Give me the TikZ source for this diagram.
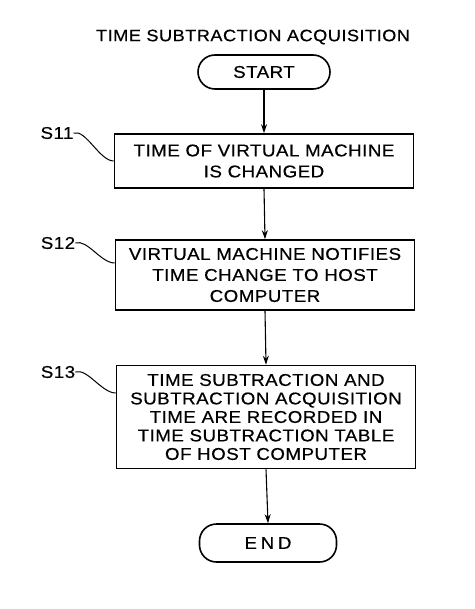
\documentclass[tikz,border=0pt]{standalone}
\usepackage{fontspec}
\setmainfont{Liberation Sans}[FakeStretch=1.1, LetterSpace=3, FakeBold=0.5]
\usetikzlibrary{arrows.meta}
\begin{document}
\begin{tikzpicture}[x=1pt,y=-1pt,
  every node/.style={font=\fontsize{17}{21}\selectfont},
  stepbox/.style={draw, line width=1.6pt, minimum width=299pt, align=center, inner sep=0pt},
  term/.style={draw, line width=1.6pt, rounded corners=17pt, inner sep=0pt, align=center},
  conn/.style={line width=1.1pt, -{Stealth[length=9pt,width=6pt]}},
  lead/.style={line width=1pt},
  lbl/.style={inner sep=0pt}]
\useasboundingbox (0,0) rectangle (474,609);
\node[inner sep=0pt, font=\fontsize{16.5}{20}\selectfont] (title) at (253,37) {TIME SUBTRACTION ACQUISITION};
\node[term, minimum width=132pt, minimum height=34pt] (start) at (264,72) {START};
\node[stepbox, minimum height=54pt] (s11) at (264,161) {TIME OF VIRTUAL MACHINE\\IS CHANGED};
\node[stepbox, minimum height=70pt] (s12) at (265,275) {VIRTUAL MACHINE NOTIFIES\\TIME CHANGE TO HOST\\COMPUTER};
\node[stepbox, minimum height=103pt, font=\fontsize{17}{18.5}\selectfont] (s13) at (266,417) {TIME SUBTRACTION AND\\SUBTRACTION ACQUISITION\\TIME ARE RECORDED IN\\TIME SUBTRACTION TABLE\\OF HOST COMPUTER};
\node[term, minimum width=137pt, minimum height=38pt] (end) at (268,543) {\addfontfeature{LetterSpace=22}END};
\draw[conn] (start.south) -- (s11.north);
\draw[conn] (s11.south) -- (s12.north);
\draw[conn] (s12.south) -- (s13.north);
\draw[conn] (s13.south) -- (end.north);
\node[lbl] (l11) at (57,133) {S11};
\node[lbl] (l12) at (58,243) {S12};
\node[lbl] (l13) at (58,372) {S13};
\draw[lead] (l11.east) .. controls +(12,-4) and +(-14,0) .. (s11.west);
\draw[lead] (l12.east) .. controls +(12,-4) and +(-14,0) .. ([yshift=12pt]s12.west);
\draw[lead] (l13.east) .. controls +(12,-4) and +(-14,0) .. ([yshift=24pt]s13.west);
\end{tikzpicture}
\end{document}
